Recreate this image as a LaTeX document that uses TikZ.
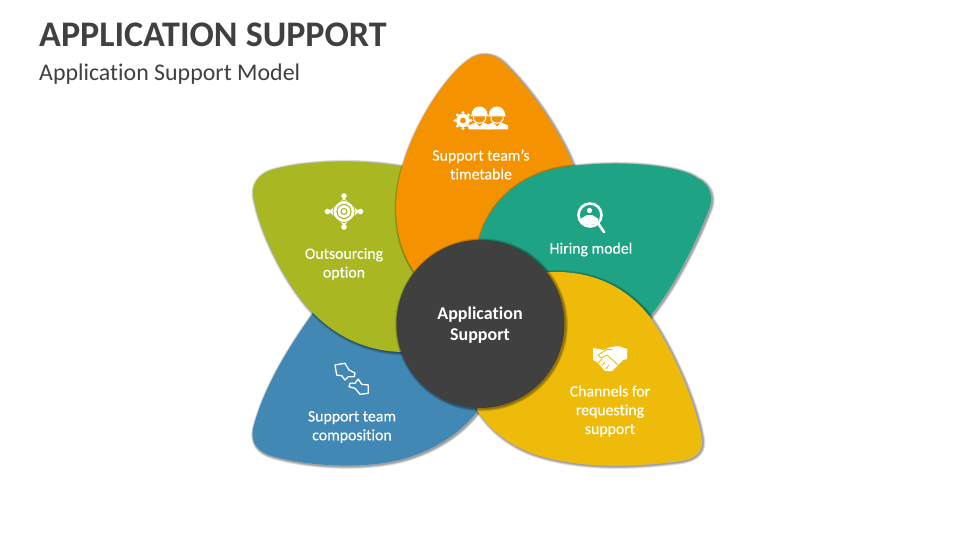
\documentclass[tikz,border=0pt]{standalone}
\usepackage{fontspec}
\setmainfont[Ligatures=NoCommon]{Carlito}
\newfontfamily\lblfont[Ligatures=NoCommon,FakeBold=0.25]{Carlito}
\usetikzlibrary{calc}
\definecolor{cblue}{HTML}{4189B4}
\definecolor{colive}{HTML}{A8B722}
\definecolor{corange}{HTML}{F59200}
\definecolor{cteal}{HTML}{1EA484}
\definecolor{cyellow}{HTML}{EFBB0B}
\definecolor{cdark}{HTML}{404040}
\tikzset{
  lbl/.style={text=white,align=center,font=\lblfont\fontsize{15.8}{18.8}\selectfont,inner sep=0pt},
  ink/.style={fill=white,draw=none},
  inkline/.style={draw=white,line width=1.3pt,fill=none,line join=round},
  glow/.style={draw=black,opacity=0.11,fill=none,line join=round}
}
\newcommand{\petal}[2]{%
  \foreach \w in {5,3.6,2.4,1.2}{\draw[glow,line width=\w pt,shift={(1,0.8)}] #2;}
  \fill[#1] #2;}
\begin{document}
\begin{tikzpicture}[x=1pt,y=-1pt]
\useasboundingbox (0,0) rectangle (960,540);
\fill[white] (0,0) rectangle (960,540);
\node[anchor=west,text=cdark,inner sep=0pt,font=\fontsize{36}{40}\selectfont\bfseries] (title) at (39,34.5) {APPLICATION SUPPORT};
\node[anchor=west,text=cdark,inner sep=0pt,font=\fontsize{23.9}{26}\selectfont] (subtitle) at (39,74) {Application Support Model};
% petals
\petal{cblue}{(330,300) -- (313,313) .. controls (290,345) and (265,385) .. (254,425) .. controls (249,443) and (258,452) .. (272,456) .. controls (310,467) and (370,470) .. (410,457) .. controls (440,447) and (465,430) .. (482,405) -- (420,330) -- cycle}
\petal{colive}{(420,170) .. controls (370,158) and (310,160) .. (275,169) .. controls (258,173) and (250,185) .. (254,200) .. controls (262,240) and (290,290) .. (313,313) .. controls (335,335) and (365,352) .. (405,352) -- (470,330) -- cycle}
\petal{corange}{(440,300) .. controls (405,270) and (396,240) .. (396,207) .. controls (396,150) and (440,80) .. (468,60) .. controls (478,52) and (492,52) .. (503,62) .. controls (530,88) and (560,130) .. (575,170) -- (520,300) -- cycle}
\petal{cteal}{(478,245) .. controls (485,205) and (520,170) .. (573,166) .. controls (620,160) and (680,165) .. (697,178) .. controls (712,185) and (714,200) .. (708,212) .. controls (695,245) and (670,295) .. (645,322) -- (520,340) -- cycle}
\petal{cyellow}{(500,280) -- (547,272) .. controls (590,270) and (625,285) .. (650,317) .. controls (670,345) and (695,400) .. (701,435) .. controls (704,450) and (698,458) .. (680,461) .. controls (640,466) and (590,470) .. (540,456) .. controls (510,447) and (490,430) .. (477,410) -- (470,330) -- cycle}
\petal{cdark}{(480.5,324) circle[radius=84]}
% labels
\node[text=white,align=center,inner sep=0pt,font=\fontsize{18}{21}\selectfont\bfseries] (centre) at (480,325) {Application\\Support};
\node[lbl] (l1) at (481,164.5) {Support team’s\\timetable};
\node[lbl] (l2) at (591,249.5) {Hiring model};
\node[lbl] (l3) at (610,411) {Channels for\\requesting\\support};
\node[lbl] (l4) at (352,427) {Support team\\composition};
\node[lbl] (l5) at (344,264) {Outsourcing\\option};
% workers icon
\foreach \a in {0,45,...,315}{\fill[ink] ($(463,120.5)+(\a:8)$) circle[radius=1.6];}
\fill[ink,even odd rule] (463,120.5) circle[radius=6.8] (463,120.5) circle[radius=3];
\foreach \cx/\base in {479.5/129.5,497/129.5}{
  \fill[ink] (\cx-11,\base) -- (\cx-11,\base-4) -- (\cx-4,\base-7) -- (\cx,\base-3) -- (\cx+4,\base-7) -- (\cx+11,\base-4) -- (\cx+11,\base) -- cycle;
  \fill[ink] (\cx-8,\base-15) arc[start angle=180,end angle=360,radius=8] -- (\cx+9,\base-13) -- (\cx-9,\base-13) -- cycle;
  \draw[white,line width=1pt] (\cx-6,\base-13) -- (\cx-6,\base-10) .. controls (\cx-5,\base-5) and (\cx+5,\base-5) .. (\cx+6,\base-10) -- (\cx+6,\base-13);
}
% magnifier icon
\draw[white,line width=2.6pt] (590,215) circle[radius=11.5];
\draw[white,line width=2.6pt,line cap=round] (598.5,224) -- (604,232);
\fill[ink] (589.5,210.5) circle[radius=2.6];
\fill[ink] (581,222) -- (581,218.5) -- (587,215) -- (592,215) -- (598,218.5) -- (598,222) .. controls (595,226) and (585,226) .. (581,222) -- cycle;
% handshake icon
\fill[ink] (593,348) -- (604,350) -- (609,347.5) -- (618,346) -- (627,349) -- (627,359) -- (623,360) -- (612,371) -- (605,371) -- (597,362) -- (593,360) -- cycle;
\draw[cyellow,line width=0.9pt] (618,365) -- (607,355) -- (601,358) -- (598,355) -- (607,349.5) -- (612,349.5);
\draw[cyellow,line width=0.8pt] (598,363) -- (602,359) (602,366) -- (605,362) (606,369) -- (609,365);
% target icon
\fill[ink] (344,196) circle[radius=2.8] (344,227) circle[radius=2.8] (327.5,211.5) circle[radius=2.8] (360.5,211.5) circle[radius=2.8];
\fill[ink] (344,198) -- (359,211.5) -- (344,225.5) -- (329,211.5) -- cycle;
\draw[colive,line width=0.7pt] (344,211.5) circle[radius=11];
\fill[ink] (344,211.5) circle[radius=10];
\draw[colive,line width=1.1pt] (344,211.5) circle[radius=7] (344,211.5) circle[radius=3];
% gloves icon
\draw[inkline] (335,365) -- (345,363.3) -- (349,370) -- (355,373) -- (354.3,376.7) -- (348.3,376.7) -- (345,380) -- (341.7,375.7) -- (336.7,375) -- cycle;
\draw[inkline] (368.3,385) -- (368.3,393.3) -- (360,394.3) -- (355,388.3) -- (349,386.7) -- (350,383.3) -- (355,383.3) -- (358.3,379) -- (361.7,384.3) -- cycle;
\end{tikzpicture}
\end{document}
